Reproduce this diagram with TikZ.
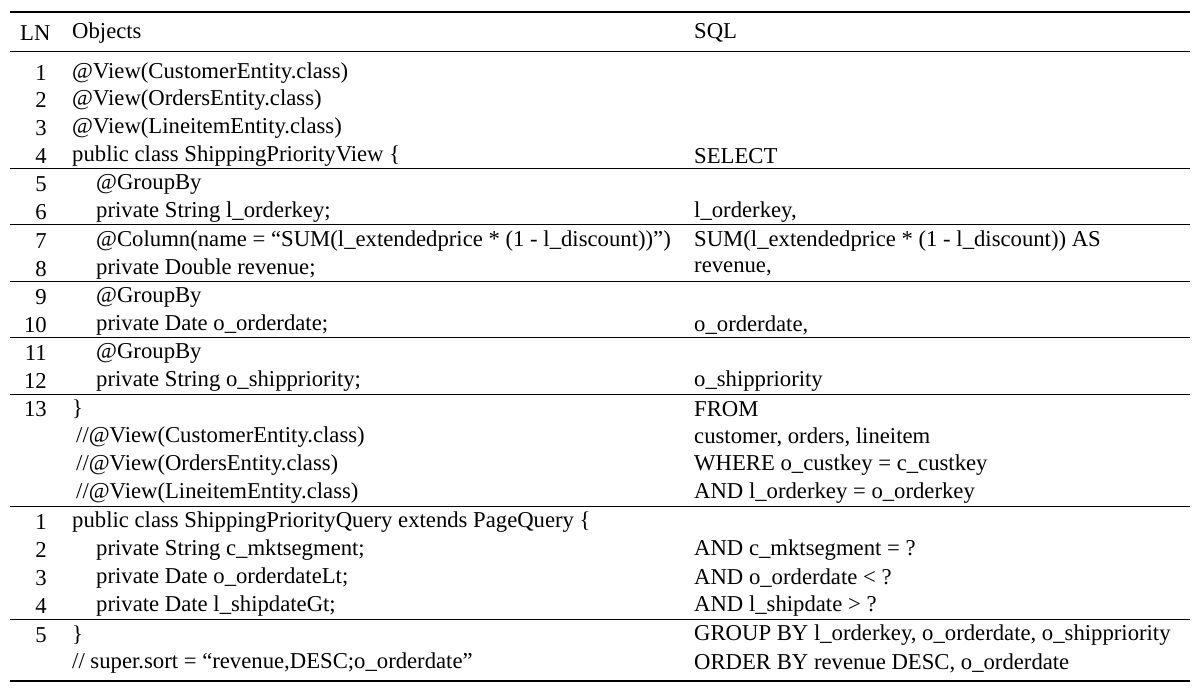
\documentclass[tikz,border=0pt]{standalone}
\usepackage{fontspec}
\setmainfont{Liberation Serif}
\begin{document}
\begin{tikzpicture}[x=1pt,y=-1pt,
  t/.style={anchor=west,inner sep=0pt,font=\fontsize{22.7}{26}\selectfont},
  n/.style={anchor=east,inner sep=0pt,font=\fontsize{22.7}{26}\selectfont},
  thin/.style={line width=0.8pt},thick/.style={line width=1.4pt}]
\useasboundingbox (0,0) rectangle (1200,692);
\draw[thick] (10,12) -- (1190,12);
\draw[thin] (10,51) -- (1190,51);
\foreach \y in {168,224,281,337,394,506,619} \draw[thin] (10,\y) -- (1190,\y);
\draw[thick] (10,681) -- (1190,681);
\node[t] (hln) at (20,33) {LN};
\node[t] (hob) at (72,33) {Objects};
\node[t] (hsq) at (694,33) {SQL};
% view rows
\node[n] (n1) at (47,73) {1}; \node[t] (o1) at (72,73) {@View(CustomerEntity.class)};
\node[n] (n2) at (47,100) {2}; \node[t] (o2) at (72,100) {@View(OrdersEntity.class)};
\node[n] (n3) at (47,128) {3}; \node[t] (o3) at (72,128) {@View(LineitemEntity.class)};
\node[n] (n4) at (47,156) {4}; \node[t] (o4) at (72,156) {public class ShippingPriorityView \{};
\node[t] (s4) at (694,156) {SELECT};
\node[n] (n5) at (47,184) {5}; \node[t] (o5) at (96,184) {@GroupBy};
\node[n] (n6) at (47,212) {6}; \node[t] (o6) at (96,212) {private String l\_orderkey;};
\node[t] (s6) at (694,212) {l\_orderkey,};
\node[n] (n7) at (47,241) {7}; \node[t] (o7) at (96,241) {@Column(name = “SUM(l\_extendedprice * (1 - l\_discount))”)};
\node[t] (s7) at (694,241) {SUM(l\_extendedprice * (1 - l\_discount)) AS};
\node[n] (n8) at (47,269) {8}; \node[t] (o8) at (96,269) {private Double revenue;};
\node[t] (s8) at (694,269) {revenue,};
\node[n] (n9) at (47,297) {9}; \node[t] (o9) at (96,297) {@GroupBy};
\node[n] (n10) at (47,325) {10}; \node[t] (o10) at (96,325) {private Date o\_orderdate;};
\node[t] (s10) at (694,325) {o\_orderdate,};
\node[n] (n11) at (47,353) {11}; \node[t] (o11) at (96,353) {@GroupBy};
\node[n] (n12) at (47,381) {12}; \node[t] (o12) at (96,381) {private String o\_shippriority;};
\node[t] (s12) at (694,381) {o\_shippriority};
\node[n] (n13) at (47,409) {13}; \node[t] (o13) at (72,409) {\}};
\node[t] (s13) at (694,409) {FROM};
\node[t] (c1) at (76,437) {//@View(CustomerEntity.class)};
\node[t] (sc1) at (694,437) {customer, orders, lineitem};
\node[t] (c2) at (76,465) {//@View(OrdersEntity.class)};
\node[t] (sc2) at (694,465) {WHERE o\_custkey = c\_custkey};
\node[t] (c3) at (76,493) {//@View(LineitemEntity.class)};
\node[t] (sc3) at (694,493) {AND l\_orderkey = o\_orderkey};
% query rows
\node[n] (q1) at (47,522) {1}; \node[t] (p1) at (72,522) {public class ShippingPriorityQuery extends PageQuery \{};
\node[n] (q2) at (47,550) {2}; \node[t] (p2) at (96,550) {private String c\_mktsegment;};
\node[t] (r2) at (694,550) {AND c\_mktsegment = ?};
\node[n] (q3) at (47,578) {3}; \node[t] (p3) at (96,578) {private Date o\_orderdateLt;};
\node[t] (r3) at (694,578) {AND o\_orderdate < ?};
\node[n] (q4) at (47,606) {4}; \node[t] (p4) at (96,606) {private Date l\_shipdateGt;};
\node[t] (r4) at (694,606) {AND l\_shipdate > ?};
\node[n] (q5) at (47,635) {5}; \node[t] (p5) at (72,635) {\}};
\node[t] (r5) at (694,635) {GROUP BY l\_orderkey, o\_orderdate, o\_shippriority};
\node[t] (p6) at (72,663) {// super.sort = “revenue,DESC;o\_orderdate”};
\node[t] (r6) at (694,663) {ORDER BY revenue DESC, o\_orderdate};
\end{tikzpicture}
\end{document}
